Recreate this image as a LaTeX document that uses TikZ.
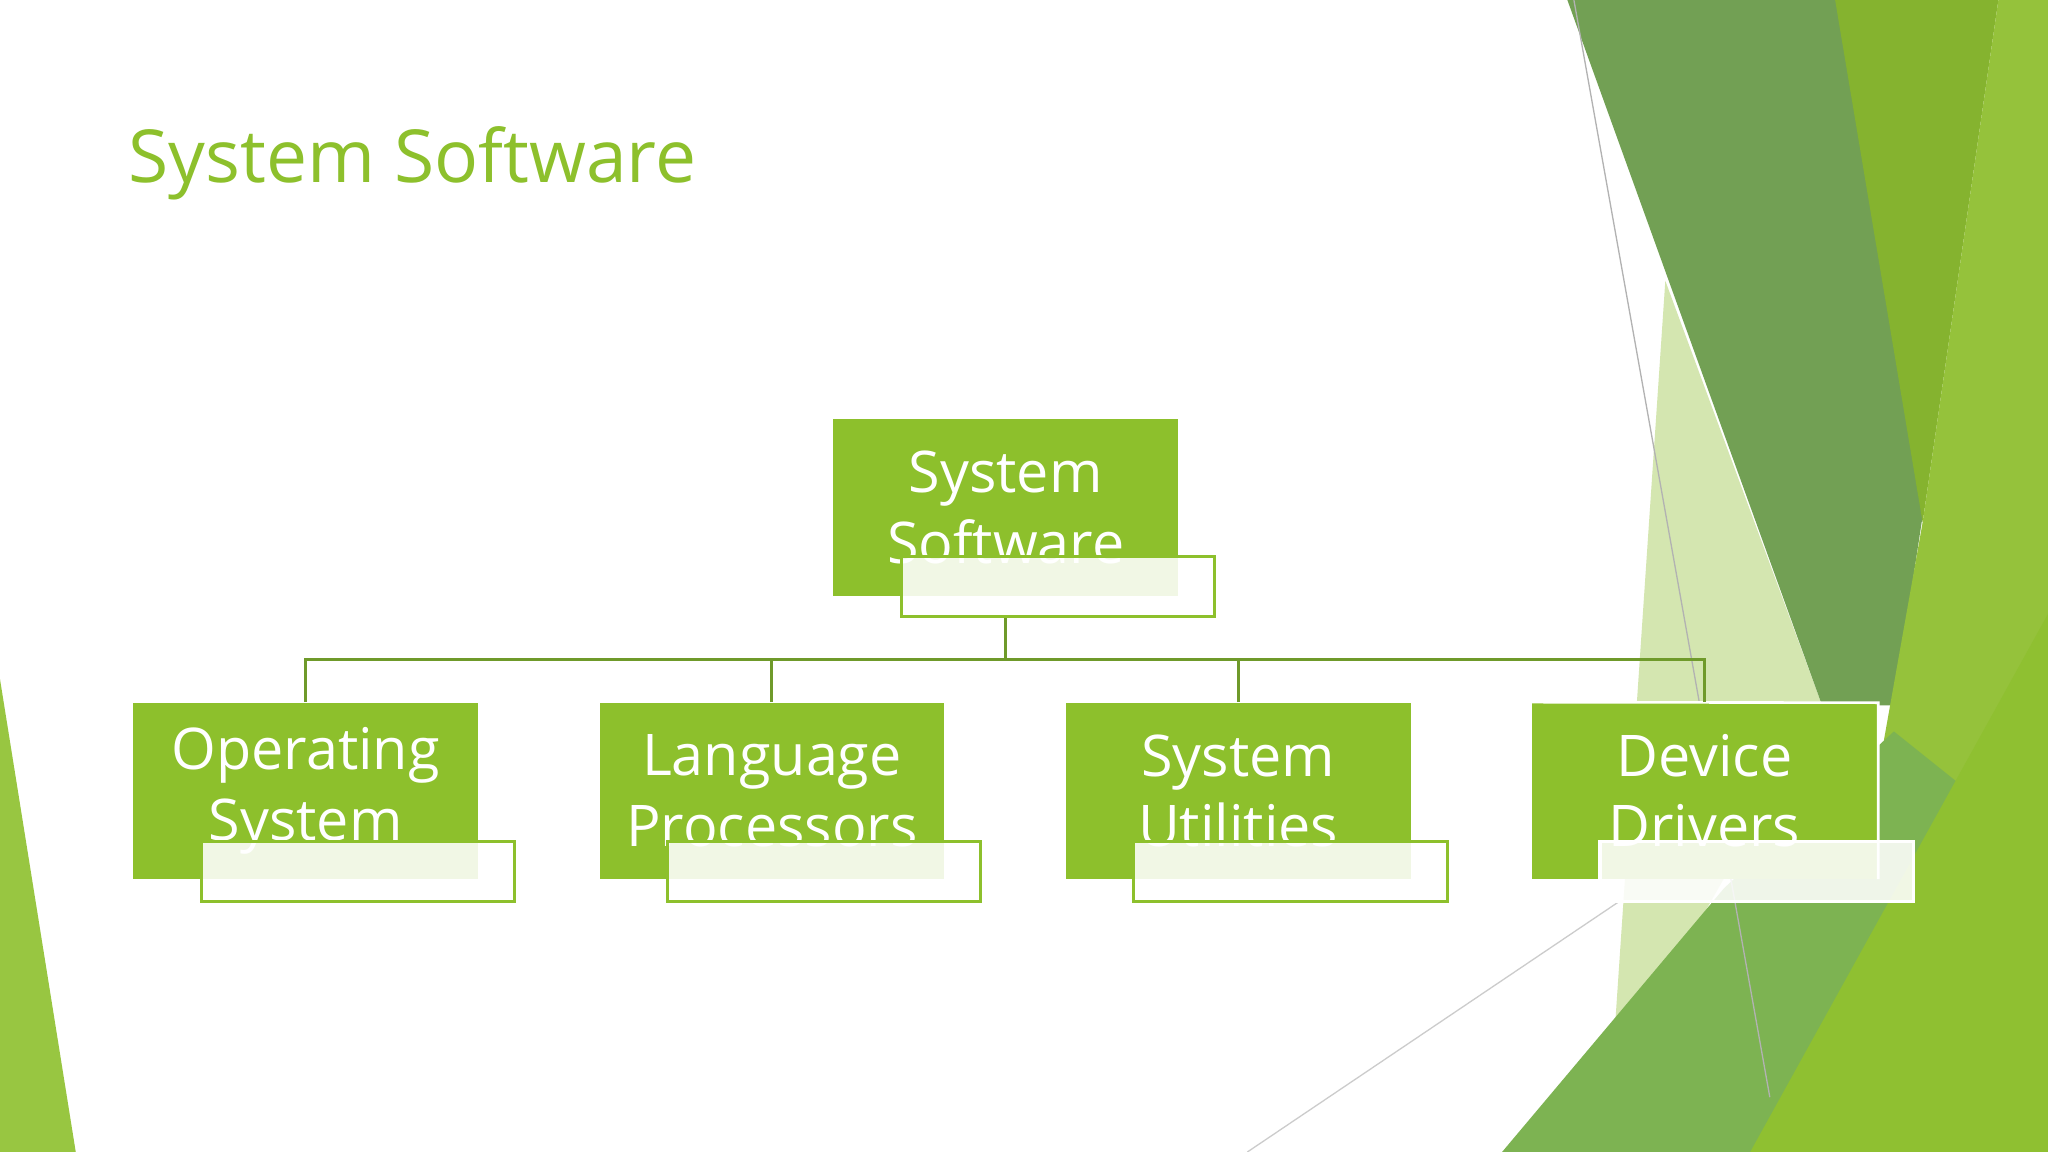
\documentclass[tikz,border=0pt]{standalone}
\usepackage{fontspec}
\setmainfont{Open Sans}
\begin{document}
\begin{tikzpicture}[x=0.5pt,y=-0.5pt,
  box/.style={fill=boxg, draw=none, minimum width=132pt, minimum height=67.5pt, inner sep=0pt, text=white, font=\fontsize{22}{27}\selectfont, align=center},
  ovl/.style={draw=boxg, line width=1.2pt, fill=white, fill opacity=0.88, minimum width=120pt, minimum height=23pt, inner sep=0pt},
  conn/.style={draw=lineg, line width=1.2pt}]
\definecolor{boxg}{HTML}{8DC02C}
\definecolor{lineg}{HTML}{6F9A2A}
\definecolor{dkg}{HTML}{72A054}
\definecolor{olg}{HTML}{85B32F}
\definecolor{ltg}{HTML}{95C23B}
\definecolor{bg}{HTML}{7DB352}
\definecolor{lime}{HTML}{8FC031}
\definecolor{pale}{HTML}{D4E6B0}
\useasboundingbox (0,0) rectangle (1568,882);
\fill[white] (0,0) rectangle (1568,882);
% decoration
\fill[pale] (1275,215) -- (1395,540) -- (1310,690) -- (1200,882) -- (1230,882) -- cycle;
\fill[dkg] (1200,0) -- (1420,0) -- (1472,395) -- (1450,540) -- (1395,540) -- cycle;
\fill[olg] (1405,0) -- (1530,0) -- (1472,400) -- cycle;
\fill[ltg] (1530,0) -- (1568,0) -- (1568,882) -- (1400,882) -- (1440,580) -- (1472,400) -- cycle;
\fill[bg] (1150,882) -- (1320,680) -- (1450,560) -- (1500,600) -- (1420,882) -- cycle;
\fill[lime] (1340,882) -- (1568,470) -- (1568,882) -- cycle;
\fill[boxg!90!white] (0,520) -- (58,882) -- (0,882) -- cycle;
\draw[gray!60, line width=0.5pt] (1205,0) -- (1355,840);
\draw[gray!40, line width=0.5pt] (955,882) -- (1240,690);
% title
\node[anchor=base west, text=boxg, font=\fontsize{28}{34}\selectfont, inner sep=0pt] (title) at (98,140) {System Software};
% boxes
\node[box] (root) at (770,388.5) {System\\Software};
\node[box] (os) at (234,605.5) {Operating\\System};
\node[box] (lp) at (591,605.5) {Language\\Processors};
\node[box] (su) at (948,605.5) {System\\Utilities};
\node[box] (dd) at (1305,605.5) {Device\\Drivers};
\draw[draw=white, line width=1pt] (dd.north west) -- (1438,538) -- (1438,673);
\node[ovl] (rooto) at (810,449) {};
\node[ovl] (oso) at (274,667) {};
\node[ovl] (lpo) at (631,667) {};
\node[ovl] (suo) at (988,667) {};
\node[ovl, draw=white] (ddo) at (1345,667) {};
% connectors
\coordinate (j) at (770,505);
\draw[conn] (rooto.south -| root.south) -- (j);
\draw[conn] (os.north) |- (j) -| (dd.north);
\draw[conn] (lp.north) -- (lp.north |- j);
\draw[conn] (su.north) -- (su.north |- j);
\end{tikzpicture}
\end{document}
